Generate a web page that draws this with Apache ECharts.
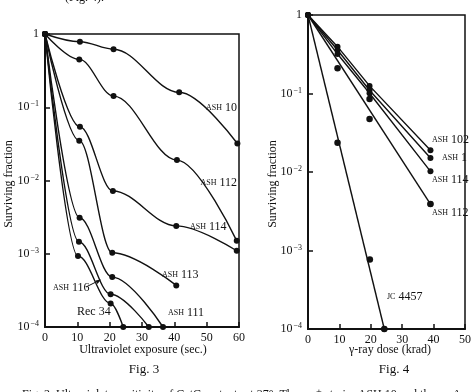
<!DOCTYPE html>
<html><head><meta charset="utf-8">
<script src="https://cdn.jsdelivr.net/npm/echarts@6/dist/echarts.min.js"></script>
<style>html,body{margin:0;padding:0;background:#fff}#c{width:474px;height:392px}</style>
</head><body><div id="c"></div>
<script>
// ---- Fig. 3 : ultraviolet exposure (sec.) vs surviving fraction ----
const uvTicks = [0, 10, 20, 30, 40, 50, 60];
const uvAsh10  = [[0,1],[10.8,0.785],[21.2,0.62],[41.5,0.16],[59.5,0.032]];
const uvAsh112 = [[0,1],[10.6,0.45],[21.2,0.142],[40.8,0.019],[59.3,0.0015]];
const uvAsh114 = [[0,1],[10.8,0.054],[21,0.0072],[40.6,0.0024],[59.3,0.0011]];
const uvAsh113 = [[0,1],[10.6,0.035],[20.8,0.00103],[40.6,0.00037]];
const uvAsh111 = [[0,1],[10.7,0.0031],[20.8,0.00048],[36.5,0.0001]];
const uvAsh116 = [[0,1],[10.5,0.00146],[20.3,0.00028],[32.1,0.0001]];
const uvRec34  = [[0,1],[10.2,0.00093],[20.3,0.00021],[24.2,0.0001]];
// ---- Fig. 4 : gamma-ray dose (krad) vs surviving fraction ----
const gTicks = [0, 10, 20, 30, 40, 50];
const gAsh102 = [[0,1],[9.4,0.395],[19.6,0.125],[39,0.0189]];
const gAsh1   = [[0,1],[9.4,0.358],[19.6,0.11],[39,0.0151]];
const gAsh114 = [[0,1],[9.4,0.318],[19.6,0.1006],[39,0.0102]];
const gAsh112Line = [[0,1],[39,0.0039]];
const gAsh112Pts  = [[9.4,0.209],[19.6,0.085],[19.6,0.0473],[39,0.0039]];
const gJcLine = [[0,1],[24.3,0.0001]];
const gJcPts  = [[9.4,0.0236],[19.7,0.00077],[24.3,0.0001]];
const yTicks = [1, 0.1, 0.01, 0.001, 0.0001];

const SERIF = '"Liberation Serif","DejaVu Serif",serif';
const chart = echarts.init(document.getElementById('c'), null, {renderer:'canvas'});

function yFmt(v){
  const e = Math.round(Math.log10(v));
  return e === 0 ? '{b|1}' : '{b|10}{s|\u2212' + (-e) + '}';
}
const yRich = {b:{fontSize:12, fontFamily:SERIF, color:'#111'}, s:{fontSize:8, fontFamily:SERIF, color:'#111', verticalAlign:'top', padding:[0,0,6,1]}};

function xAxisCfg(idx, max){
  return {type:'value', gridIndex:idx, min:0, max:max, interval:10,
    axisLine:{show:true, onZero:false, lineStyle:{color:'#111', width:2}},
    axisTick:{show:true, inside:true, length:5, lineStyle:{color:'#111', width:1.5}},
    axisLabel:{fontFamily:SERIF, fontSize:12, color:'#111', margin:5},
    splitLine:{show:false}};
}
function yAxisCfg(idx){
  return {type:'log', gridIndex:idx, logBase:10, min:0.0001, max:1,
    axisLine:{show:true, lineStyle:{color:'#111', width:2}},
    axisTick:{show:true, inside:true, length:5, lineStyle:{color:'#111', width:1.5}},
    axisLabel:{formatter:yFmt, rich:yRich, margin:6},
    splitLine:{show:false}, minorTick:{show:false}};
}
function curve(data, xi){
  return {type:'line', xAxisIndex:xi, yAxisIndex:xi, data:data, smooth:0.35, smoothMonotone:'x',
    symbol:'circle', symbolSize:6, showSymbol:true, itemStyle:{color:'#111', opacity:1},
    lineStyle:{color:'#111', width:1.4}, animation:false, silent:true};
}
function straight(data, xi, sym){
  return {type:'line', xAxisIndex:xi, yAxisIndex:xi, data:data, smooth:false,
    symbol: sym ? 'circle' : 'none', symbolSize:6, showSymbol:!!sym, itemStyle:{color:'#111', opacity:1},
    lineStyle:{color:'#111', width:1.4}, animation:false, silent:true};
}
function dots(data, xi){
  return {type:'scatter', xAxisIndex:xi, yAxisIndex:xi, data:data, symbol:'circle', symbolSize:6.5,
    itemStyle:{color:'#111', opacity:1}, animation:false, silent:true};
}
function lbl(text, x, y, align, size){
  return {type:'text', x:x, y:y, style:{text:text, align:align||'left', verticalAlign:'middle',
    font: (size||12)+'px '+SERIF, fill:'#111',
    rich:{s:{fontSize:8, fontFamily:SERIF, fill:'#111'}, n:{fontSize:12, fontFamily:SERIF, fill:'#111'}}}};
}
const ash = n => '{s|ASH} {n|' + n + '}';

chart.setOption({
  animation:false,
  backgroundColor:'#fff',
  grid:[
    {left:45, top:34, width:194, height:293, show:true, borderColor:'#111', borderWidth:1.5, containLabel:false},
    {left:308, top:15, width:164, height:314, show:true, borderColor:'#111', borderWidth:1.5, containLabel:false}
  ],
  xAxis:[xAxisCfg(0, 60), xAxisCfg(1, 50)],
  yAxis:[yAxisCfg(0), yAxisCfg(1)],
  series:[
    curve(uvAsh10,0), curve(uvAsh112,0), curve(uvAsh114,0), curve(uvAsh113,0),
    curve(uvAsh111,0), curve(uvAsh116,0), curve(uvRec34,0),
    straight(gAsh102,1,true), straight(gAsh1,1,true), straight(gAsh114,1,true),
    straight(gAsh112Line,1,true), dots(gAsh112Pts,1),
    straight(gJcLine,1,true), dots(gJcPts,1)
  ],
  graphic:[
    lbl('(Fig. 4).', 65, -2, 'left', 12),
    {type:'text', x:9, y:184, rotation:Math.PI/2, style:{text:'Surviving fraction', align:'center', verticalAlign:'middle', font:'12px '+SERIF, fill:'#111'}},
    {type:'text', x:273, y:184, rotation:Math.PI/2, style:{text:'Surviving fraction', align:'center', verticalAlign:'middle', font:'12px '+SERIF, fill:'#111'}},
    lbl('Ultraviolet exposure (sec.)', 143, 350, 'center', 12),
    lbl('\u03b3-ray dose (krad)', 390, 350, 'center', 12),
    lbl('Fig. 3', 144, 370, 'center', 13),
    lbl('Fig. 4', 394, 370, 'center', 13),
    lbl('Fig. 2. Ultraviolet sensitivity of CetC mutants at 37\u00b0. The rec\u207a strain, ASH 10 and the recA', 22, 395, 'left', 12),
    lbl(ash(10), 237, 108, 'right'),
    lbl(ash(112), 237, 183, 'right'),
    lbl(ash(114), 190, 227, 'left'),
    lbl(ash(113), 162, 275, 'left'),
    lbl(ash(111), 168, 313, 'left'),
    lbl('Rec 34', 77, 312, 'left', 12),
    lbl(ash(116), 53, 288, 'left'),
    {type:'polyline', shape:{points:[[86,287],[100,280]]}, style:{stroke:'#111', lineWidth:1}},
    {type:'polygon', shape:{points:[[101,279.5],[95.5,280.5],[97.5,284]]}, style:{fill:'#111'}},
    lbl(ash(102), 432, 140, 'left'),
    lbl(ash(1), 442, 158, 'left'),
    lbl(ash(114), 432, 180, 'left'),
    lbl(ash(112), 432, 213, 'left'),
    lbl('{s|JC} {n|4457}', 387, 297, 'left')
  ]
});
</script></body></html>
